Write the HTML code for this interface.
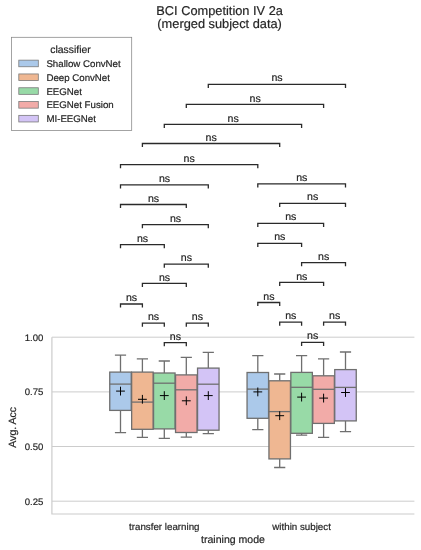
<!DOCTYPE html>
<html><head><meta charset="utf-8"><title>BCI Competition IV 2a</title>
<style>html,body{margin:0;padding:0;background:#fff}svg{display:block}</style></head>
<body>
<svg width="421" height="550" viewBox="0 0 421 550" font-family="'Liberation Sans', sans-serif" fill="#262626" text-rendering="geometricPrecision"><style>text{stroke:#262626;stroke-width:0.2px}</style>
<rect width="421" height="550" fill="#fff"/>
<line x1="51.9" x2="414.4" y1="337.2" y2="337.2" stroke="#cccccc" stroke-width="1"/>
<line x1="51.9" x2="414.4" y1="391.9" y2="391.9" stroke="#cccccc" stroke-width="1"/>
<line x1="51.9" x2="414.4" y1="446.5" y2="446.5" stroke="#cccccc" stroke-width="1"/>
<line x1="51.9" x2="414.4" y1="501.2" y2="501.2" stroke="#cccccc" stroke-width="1"/>
<path d="M51.9 337.2 V514.0 H414.4" fill="none" stroke="#cccccc" stroke-width="1.2"/>
<text transform="translate(43.4,340.6) scale(1,0.98)" font-size="9.6" text-anchor="end">1.00</text>
<text transform="translate(43.4,395.3) scale(1,0.98)" font-size="9.6" text-anchor="end">0.75</text>
<text transform="translate(43.4,449.9) scale(1,0.98)" font-size="9.6" text-anchor="end">0.50</text>
<text transform="translate(43.4,504.6) scale(1,0.98)" font-size="9.6" text-anchor="end">0.25</text>
<text x="164.3" y="529.8" font-size="9.75" text-anchor="middle">transfer learning</text>
<text x="301.6" y="529.8" font-size="9.75" text-anchor="middle">within subject</text>
<text x="233" y="543.3" font-size="10.56" text-anchor="middle">training mode</text>
<text transform="translate(16.0,427.3) rotate(-90)" font-size="10.56" text-anchor="middle">Avg. Acc</text>
<text x="219.6" y="14.9" font-size="12.8" text-anchor="middle">BCI Competition IV 2a</text>
<text x="219.6" y="28.3" font-size="12.8" text-anchor="middle">(merged subject data)</text>
<g stroke="#6f6f6f" stroke-width="1.3" fill="none">
<path d="M120.5 372.1V355.1M120.5 410.4V432.6M114.9 355.1H126.1M114.9 432.6H126.1"/>
<rect x="109.75" y="372.1" width="21.5" height="38.3" fill="#abc9ea"/>
<path d="M109.75 384.1H131.25"/>
</g>
<path d="M116.1 391.1H124.9M120.5 386.7V395.5" stroke="#000" stroke-width="1.0" fill="none"/>
<g stroke="#6f6f6f" stroke-width="1.3" fill="none">
<path d="M142.4 372.1V358.8M142.4 429.3V437.3M136.8 358.8H148.0M136.8 437.3H148.0"/>
<rect x="131.65" y="372.1" width="21.5" height="57.2" fill="#efb792"/>
<path d="M131.65 402.1H153.15"/>
</g>
<path d="M138.0 399.3H146.8M142.4 394.9V403.7" stroke="#000" stroke-width="1.0" fill="none"/>
<g stroke="#6f6f6f" stroke-width="1.3" fill="none">
<path d="M164.3 373.0V361.0M164.3 428.9V438.3M158.7 361.0H169.9M158.7 438.3H169.9"/>
<rect x="153.55" y="373.0" width="21.5" height="55.9" fill="#98daa7"/>
<path d="M153.55 383.2H175.05"/>
</g>
<path d="M159.9 395.6H168.7M164.3 391.2V400.0" stroke="#000" stroke-width="1.0" fill="none"/>
<g stroke="#6f6f6f" stroke-width="1.3" fill="none">
<path d="M186.3 374.9V357.3M186.3 432.5V437.1M180.7 357.3H191.9M180.7 437.1H191.9"/>
<rect x="175.55" y="374.9" width="21.5" height="57.6" fill="#f2aba8"/>
<path d="M175.55 389.8H197.05"/>
</g>
<path d="M181.9 400.8H190.7M186.3 396.4V405.2" stroke="#000" stroke-width="1.0" fill="none"/>
<g stroke="#6f6f6f" stroke-width="1.3" fill="none">
<path d="M208.3 368.1V352.4M208.3 430.2V433.7M202.7 352.4H213.9M202.7 433.7H213.9"/>
<rect x="197.55" y="368.1" width="21.5" height="62.1" fill="#d3c4f6"/>
<path d="M197.55 384.2H219.05"/>
</g>
<path d="M203.9 395.6H212.7M208.3 391.2V400.0" stroke="#000" stroke-width="1.0" fill="none"/>
<g stroke="#6f6f6f" stroke-width="1.3" fill="none">
<path d="M257.8 372.5V355.7M257.8 418.3V429.6M252.2 355.7H263.4M252.2 429.6H263.4"/>
<rect x="247.05" y="372.5" width="21.5" height="45.8" fill="#abc9ea"/>
<path d="M247.05 389.1H268.55"/>
</g>
<path d="M253.4 391.9H262.2M257.8 387.5V396.3" stroke="#000" stroke-width="1.0" fill="none"/>
<g stroke="#6f6f6f" stroke-width="1.3" fill="none">
<path d="M279.7 380.8V374.0M279.7 458.9V467.5M274.1 374.0H285.3M274.1 467.5H285.3"/>
<rect x="268.95" y="380.8" width="21.5" height="78.1" fill="#efb792"/>
<path d="M268.95 411.6H290.45"/>
</g>
<path d="M275.3 415.7H284.1M279.7 411.3V420.1" stroke="#000" stroke-width="1.0" fill="none"/>
<g stroke="#6f6f6f" stroke-width="1.3" fill="none">
<path d="M301.6 372.4V355.7M301.6 433.3V435.1M296.0 355.7H307.2M296.0 435.1H307.2"/>
<rect x="290.85" y="372.4" width="21.5" height="60.9" fill="#98daa7"/>
<path d="M290.85 387.3H312.35"/>
</g>
<path d="M297.2 397.1H306.0M301.6 392.7V401.5" stroke="#000" stroke-width="1.0" fill="none"/>
<g stroke="#6f6f6f" stroke-width="1.3" fill="none">
<path d="M323.6 375.8V358.8M323.6 423.4V437.4M318.0 358.8H329.2M318.0 437.4H329.2"/>
<rect x="312.85" y="375.8" width="21.5" height="47.6" fill="#f2aba8"/>
<path d="M312.85 389.3H334.35"/>
</g>
<path d="M319.2 398.1H328.0M323.6 393.7V402.5" stroke="#000" stroke-width="1.0" fill="none"/>
<g stroke="#6f6f6f" stroke-width="1.3" fill="none">
<path d="M345.5 369.6V352.0M345.5 420.9V431.6M339.9 352.0H351.1M339.9 431.6H351.1"/>
<rect x="334.75" y="369.6" width="21.5" height="51.3" fill="#d3c4f6"/>
<path d="M334.75 387.4H356.25"/>
</g>
<path d="M341.1 392.5H349.9M345.5 388.1V396.9" stroke="#000" stroke-width="1.0" fill="none"/>
<path d="M208.3 87.9V84.3H345.5V87.9" fill="none" stroke="#2a2a2a" stroke-width="1.3"/>
<text x="277.0" y="81.4" font-size="10.6" text-anchor="middle">ns</text>
<path d="M186.3 108.0V104.4H323.6V108.0" fill="none" stroke="#2a2a2a" stroke-width="1.3"/>
<text x="255.1" y="101.5" font-size="10.6" text-anchor="middle">ns</text>
<path d="M164.3 128.0V124.4H301.6V128.0" fill="none" stroke="#2a2a2a" stroke-width="1.3"/>
<text x="233.1" y="121.5" font-size="10.6" text-anchor="middle">ns</text>
<path d="M142.4 147.1V143.5H279.7V147.1" fill="none" stroke="#2a2a2a" stroke-width="1.3"/>
<text x="211.2" y="140.6" font-size="10.6" text-anchor="middle">ns</text>
<path d="M120.5 168.3V164.7H257.8V168.3" fill="none" stroke="#2a2a2a" stroke-width="1.3"/>
<text x="189.2" y="161.8" font-size="10.6" text-anchor="middle">ns</text>
<path d="M120.5 188.5V184.9H208.3V188.5" fill="none" stroke="#2a2a2a" stroke-width="1.3"/>
<text x="164.5" y="182.0" font-size="10.6" text-anchor="middle">ns</text>
<path d="M120.5 208.1V204.5H186.3V208.1" fill="none" stroke="#2a2a2a" stroke-width="1.3"/>
<text x="153.5" y="201.6" font-size="10.6" text-anchor="middle">ns</text>
<path d="M142.4 228.2V224.6H208.3V228.2" fill="none" stroke="#2a2a2a" stroke-width="1.3"/>
<text x="175.5" y="221.7" font-size="10.6" text-anchor="middle">ns</text>
<path d="M120.5 248.3V244.7H164.3V248.3" fill="none" stroke="#2a2a2a" stroke-width="1.3"/>
<text x="142.5" y="241.8" font-size="10.6" text-anchor="middle">ns</text>
<path d="M164.3 267.7V264.1H208.3V267.7" fill="none" stroke="#2a2a2a" stroke-width="1.3"/>
<text x="186.4" y="261.2" font-size="10.6" text-anchor="middle">ns</text>
<path d="M142.4 287.0V283.4H186.3V287.0" fill="none" stroke="#2a2a2a" stroke-width="1.3"/>
<text x="164.5" y="280.5" font-size="10.6" text-anchor="middle">ns</text>
<path d="M120.5 307.6V304.0H142.4V307.6" fill="none" stroke="#2a2a2a" stroke-width="1.3"/>
<text x="131.5" y="301.1" font-size="10.6" text-anchor="middle">ns</text>
<path d="M142.4 326.8V323.2H164.3V326.8" fill="none" stroke="#2a2a2a" stroke-width="1.3"/>
<text x="153.5" y="320.3" font-size="10.6" text-anchor="middle">ns</text>
<path d="M186.3 326.8V323.2H208.3V326.8" fill="none" stroke="#2a2a2a" stroke-width="1.3"/>
<text x="197.4" y="320.3" font-size="10.6" text-anchor="middle">ns</text>
<path d="M164.3 346.3V342.7H186.3V346.3" fill="none" stroke="#2a2a2a" stroke-width="1.3"/>
<text x="175.4" y="339.8" font-size="10.6" text-anchor="middle">ns</text>
<path d="M257.8 187.5V183.9H345.5V187.5" fill="none" stroke="#2a2a2a" stroke-width="1.3"/>
<text x="301.8" y="181.0" font-size="10.6" text-anchor="middle">ns</text>
<path d="M279.7 206.9V203.3H345.5V206.9" fill="none" stroke="#2a2a2a" stroke-width="1.3"/>
<text x="312.7" y="200.4" font-size="10.6" text-anchor="middle">ns</text>
<path d="M257.8 226.9V223.3H323.6V226.9" fill="none" stroke="#2a2a2a" stroke-width="1.3"/>
<text x="290.8" y="220.4" font-size="10.6" text-anchor="middle">ns</text>
<path d="M257.8 246.9V243.3H301.6V246.9" fill="none" stroke="#2a2a2a" stroke-width="1.3"/>
<text x="279.8" y="240.4" font-size="10.6" text-anchor="middle">ns</text>
<path d="M301.6 266.3V262.7H345.5V266.3" fill="none" stroke="#2a2a2a" stroke-width="1.3"/>
<text x="323.7" y="259.8" font-size="10.6" text-anchor="middle">ns</text>
<path d="M279.7 286.0V282.4H323.6V286.0" fill="none" stroke="#2a2a2a" stroke-width="1.3"/>
<text x="301.8" y="279.5" font-size="10.6" text-anchor="middle">ns</text>
<path d="M257.8 306.1V302.5H279.7V306.1" fill="none" stroke="#2a2a2a" stroke-width="1.3"/>
<text x="268.9" y="299.6" font-size="10.6" text-anchor="middle">ns</text>
<path d="M279.7 325.8V322.2H301.6V325.8" fill="none" stroke="#2a2a2a" stroke-width="1.3"/>
<text x="290.8" y="319.3" font-size="10.6" text-anchor="middle">ns</text>
<path d="M323.6 325.8V322.2H345.5V325.8" fill="none" stroke="#2a2a2a" stroke-width="1.3"/>
<text x="334.7" y="319.3" font-size="10.6" text-anchor="middle">ns</text>
<path d="M301.6 345.9V342.3H323.6V345.9" fill="none" stroke="#2a2a2a" stroke-width="1.3"/>
<text x="312.7" y="339.4" font-size="10.6" text-anchor="middle">ns</text>
<rect x="11.4" y="37.3" width="120.3" height="93.1" fill="#fff" stroke="#858585" stroke-width="0.75"/>
<text x="70.5" y="53" font-size="10.45" text-anchor="middle">classifier</text>
<rect x="18.8" y="60.15" width="19.5" height="6.6" fill="#abc9ea" stroke="#7a7a7a" stroke-width="0.8"/>
<text x="46.4" y="66.90" font-size="9.7">Shallow ConvNet</text>
<rect x="18.8" y="73.95" width="19.5" height="6.6" fill="#efb792" stroke="#7a7a7a" stroke-width="0.8"/>
<text x="46.4" y="80.70" font-size="9.7">Deep ConvNet</text>
<rect x="18.8" y="87.75" width="19.5" height="6.6" fill="#98daa7" stroke="#7a7a7a" stroke-width="0.8"/>
<text x="46.4" y="94.50" font-size="9.7">EEGNet</text>
<rect x="18.8" y="101.55" width="19.5" height="6.6" fill="#f2aba8" stroke="#7a7a7a" stroke-width="0.8"/>
<text x="46.4" y="108.30" font-size="9.7">EEGNet Fusion</text>
<rect x="18.8" y="115.35" width="19.5" height="6.6" fill="#d3c4f6" stroke="#7a7a7a" stroke-width="0.8"/>
<text x="46.4" y="122.10" font-size="9.7">MI-EEGNet</text>
</svg>
</body></html>
